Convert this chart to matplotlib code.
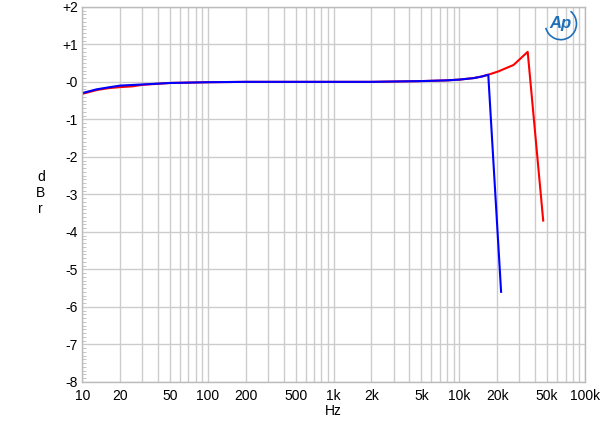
import numpy as np
import matplotlib.pyplot as plt
from matplotlib.ticker import FixedLocator, MultipleLocator, NullFormatter
from matplotlib.patches import Arc

plt.rcParams['font.family'] = ['Liberation Sans', 'DejaVu Sans']

# frekvensgang, blå kanal (Hz, dBr)
freq_blue = [10, 13, 16, 20, 30, 50, 100, 200, 500, 1000, 2000, 5000,
             8000, 10000, 13000, 15000, 17000, 21500]
dbr_blue = [-0.3, -0.2, -0.15, -0.1, -0.07, -0.03, -0.01, 0.0, 0.0, 0.0,
            0.0, 0.02, 0.04, 0.06, 0.1, 0.14, 0.19, -5.6]

# rød kanal
freq_red = [10, 13, 16, 20, 25, 30, 50, 100, 200, 500, 1000, 2000, 5000,
            8000, 10000, 13000, 15000, 17000, 20500, 27000, 35000, 46500]
dbr_red = [-0.32, -0.22, -0.17, -0.14, -0.12, -0.08, -0.03, -0.01, 0.0, 0.0,
           0.0, 0.0, 0.02, 0.04, 0.06, 0.1, 0.14, 0.19, 0.28, 0.45, 0.8, -3.7]

x_ticks = [10, 20, 50, 100, 200, 500, 1000, 2000, 5000, 10000, 20000, 50000, 100000]
x_labels = ['10', '20', '50', '100', '200', '500', '1k', '2k', '5k', '10k', '20k', '50k', '100k']
y_ticks = [-8, -7, -6, -5, -4, -3, -2, -1, 0, 1, 2]
y_labels = ['-8', '-7', '-6', '-5', '-4', '-3', '-2', '-1', '-0', '+1', '+2']

fig = plt.figure(figsize=(6.0, 4.29), dpi=100)
ax = fig.add_axes([0.137, 0.11, 0.838, 0.874])

ax.plot(freq_red, dbr_red, color='#ff0000', linewidth=1.5)
ax.plot(freq_blue, dbr_blue, color='#0000ff', linewidth=1.5)

ax.set_xscale('log')
ax.set_xlim(10, 100000)
ax.set_ylim(-8, 2)

# rutenett
minor_x = [m * 10**e for e in range(1, 5) for m in range(2, 10)]
ax.xaxis.set_major_locator(FixedLocator(x_ticks))
ax.xaxis.set_minor_locator(FixedLocator(minor_x))
ax.xaxis.set_minor_formatter(NullFormatter())
ax.set_xticklabels(x_labels)
ax.set_yticks(y_ticks)
ax.set_yticklabels(y_labels)
ax.yaxis.set_minor_locator(MultipleLocator(0.1))

ax.grid(True, which='major', axis='both', color='#cccccc', linewidth=1.0)
ax.grid(True, which='minor', axis='x', color='#cccccc', linewidth=1.0)
ax.set_axisbelow(True)

ax.tick_params(axis='x', which='major', length=0, labelsize=10, pad=5)
ax.tick_params(axis='y', which='major', length=0, labelsize=10, pad=3)
ax.tick_params(axis='x', which='minor', length=0)
ax.tick_params(axis='y', which='minor', direction='in', length=3, color='#bbbbbb')

for s in ax.spines.values():
    s.set_color('#bbbbbb')
    s.set_linewidth(1.0)

ax.set_xlabel('Hz', fontsize=10, labelpad=1)
fig.text(0.068, 0.55, 'd\nB\nr', fontsize=10, ha='center', va='center', linespacing=1.15)

# AP-logo
ax.text(0.952, 0.955, 'Ap', transform=ax.transAxes, fontsize=12, color='#1f6fb8',
        style='italic', fontweight='bold', ha='center', va='center')
ax.add_patch(Arc((0.952, 0.955), 0.062, 0.085, angle=0, theta1=200, theta2=420,
                 transform=ax.transAxes, color='#1f6fb8', linewidth=1.2))

fig.savefig('out.png', dpi=100)
